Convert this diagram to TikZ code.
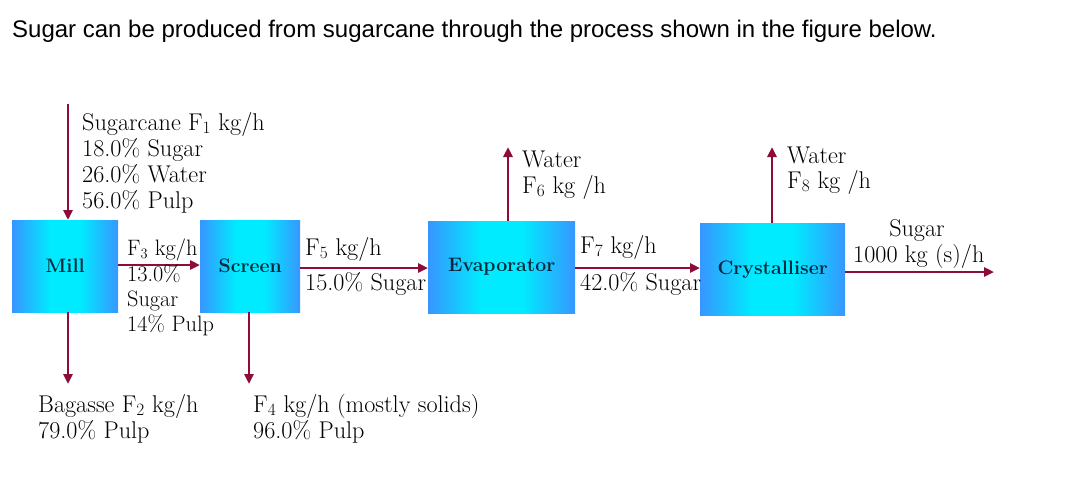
\documentclass[tikz,border=0pt]{standalone}
\usepackage{fontspec}
\newfontfamily\titlefont{Liberation Sans}
\usetikzlibrary{arrows.meta}
\definecolor{flow}{RGB}{140,12,58}
\definecolor{boxedge}{RGB}{55,150,255}
\definecolor{boxmid}{RGB}{0,235,255}
\definecolor{boxtext}{RGB}{5,40,60}
\pgfdeclarehorizontalshading{boxshade}{100bp}{color(0bp)=(boxedge); color(25bp)=(boxedge); color(43bp)=(boxmid); color(57bp)=(boxmid); color(75bp)=(boxedge); color(100bp)=(boxedge)}
\tikzset{
  unit/.style={minimum width=#1, minimum height=92pt, inner sep=0pt,
    shading=boxshade,
    font=\fontsize{19.5}{23}\selectfont\bfseries, text=boxtext},
  flowline/.style={draw=flow, line width=2.6pt, -{Triangle[length=10pt,width=9pt]}},
  lbl/.style={anchor=base west, inner sep=0pt, font=\fontsize{24.2}{28}\selectfont, align=left},
  lblsmall/.style={lbl, font=\fontsize{22.3}{26}\selectfont},
}
\begin{document}
\begin{tikzpicture}[x=1pt,y=-1pt]
\useasboundingbox (0,0) rectangle (1066,483);
\node[anchor=base west, inner sep=0pt, font=\titlefont\fontsize{24}{28}\selectfont] (title) at (12,37) {Sugar can be produced from sugarcane through the process shown in the figure below.};

\node[unit=106pt, anchor=north west] (mill) at (12,220) {Mill};
\node[unit=100pt, anchor=north west] (screen) at (200,220) {Screen};
\node[unit=147pt, anchor=north west] (evap) at (428,221) {Evaporator};
\node[unit=145pt, anchor=north west] (cryst) at (700,223) {Crystalliser};

\coordinate (inF1) at (68,104);
\coordinate (outF2) at (68,384);
\coordinate (outF4) at (249,384);
\coordinate (outF6) at (508,147);
\coordinate (outF8) at (772,147);
\coordinate (outS) at (994,272);

\draw[flowline] (inF1) -- (inF1 |- mill.north);
\draw[flowline] (mill.east |- 0,265) -- (screen.west |- 0,265);
\draw[flowline] (outF2 |- mill.south) -- (outF2);
\draw[flowline] (outF4 |- screen.south) -- (outF4);
\draw[flowline] (screen.east |- 0,268) -- (evap.west |- 0,268);
\draw[flowline] (outF6 |- evap.north) -- (outF6);
\draw[flowline] (evap.east |- 0,268) -- (cryst.west |- 0,268);
\draw[flowline] (outF8 |- cryst.north) -- (outF8);
\draw[flowline] (cryst.east |- outS) -- (outS);

\node[lbl] (t1a) at (82,130) {Sugarcane F$_1$ kg/h};
\node[lbl] (t1b) at (82,156) {18.0\% Sugar};
\node[lbl] (t1c) at (82,182) {26.0\% Water};
\node[lbl] (t1d) at (82,208) {56.0\% Pulp};

\node[lblsmall] (t3a) at (127,255) {F$_3$ kg/h};
\node[lblsmall] (t3b) at (127,281) {13.0\%};
\node[lblsmall] (t3c) at (127,306) {Sugar};
\node[lblsmall] (t3d) at (127,331) {14\% Pulp};

\node[lbl] (t5a) at (305,255) {F$_5$ kg/h};
\node[lbl] (t5b) at (305,290) {15.0\% Sugar};

\node[lbl] (t6a) at (522,167) {Water};
\node[lbl] (t6b) at (522,193) {F$_6$ kg /h};

\node[lbl] (t7a) at (580,253) {F$_7$ kg/h};
\node[lbl] (t7b) at (580,290) {42.0\% Sugar};

\node[lbl] (t8a) at (787,163) {Water};
\node[lbl] (t8b) at (787,188) {F$_8$ kg /h};

\node[lbl, anchor=base] (tsa) at (917,236) {Sugar};
\node[lbl] (tsb) at (853,262) {1000 kg (s)/h};

\node[lbl] (t2a) at (38,412) {Bagasse F$_2$ kg/h};
\node[lbl] (t2b) at (38,438) {79.0\% Pulp};

\node[lbl] (t4a) at (253,412) {F$_4$ kg/h (mostly solids)};
\node[lbl] (t4b) at (253,438) {96.0\% Pulp};
\end{tikzpicture}
\end{document}
